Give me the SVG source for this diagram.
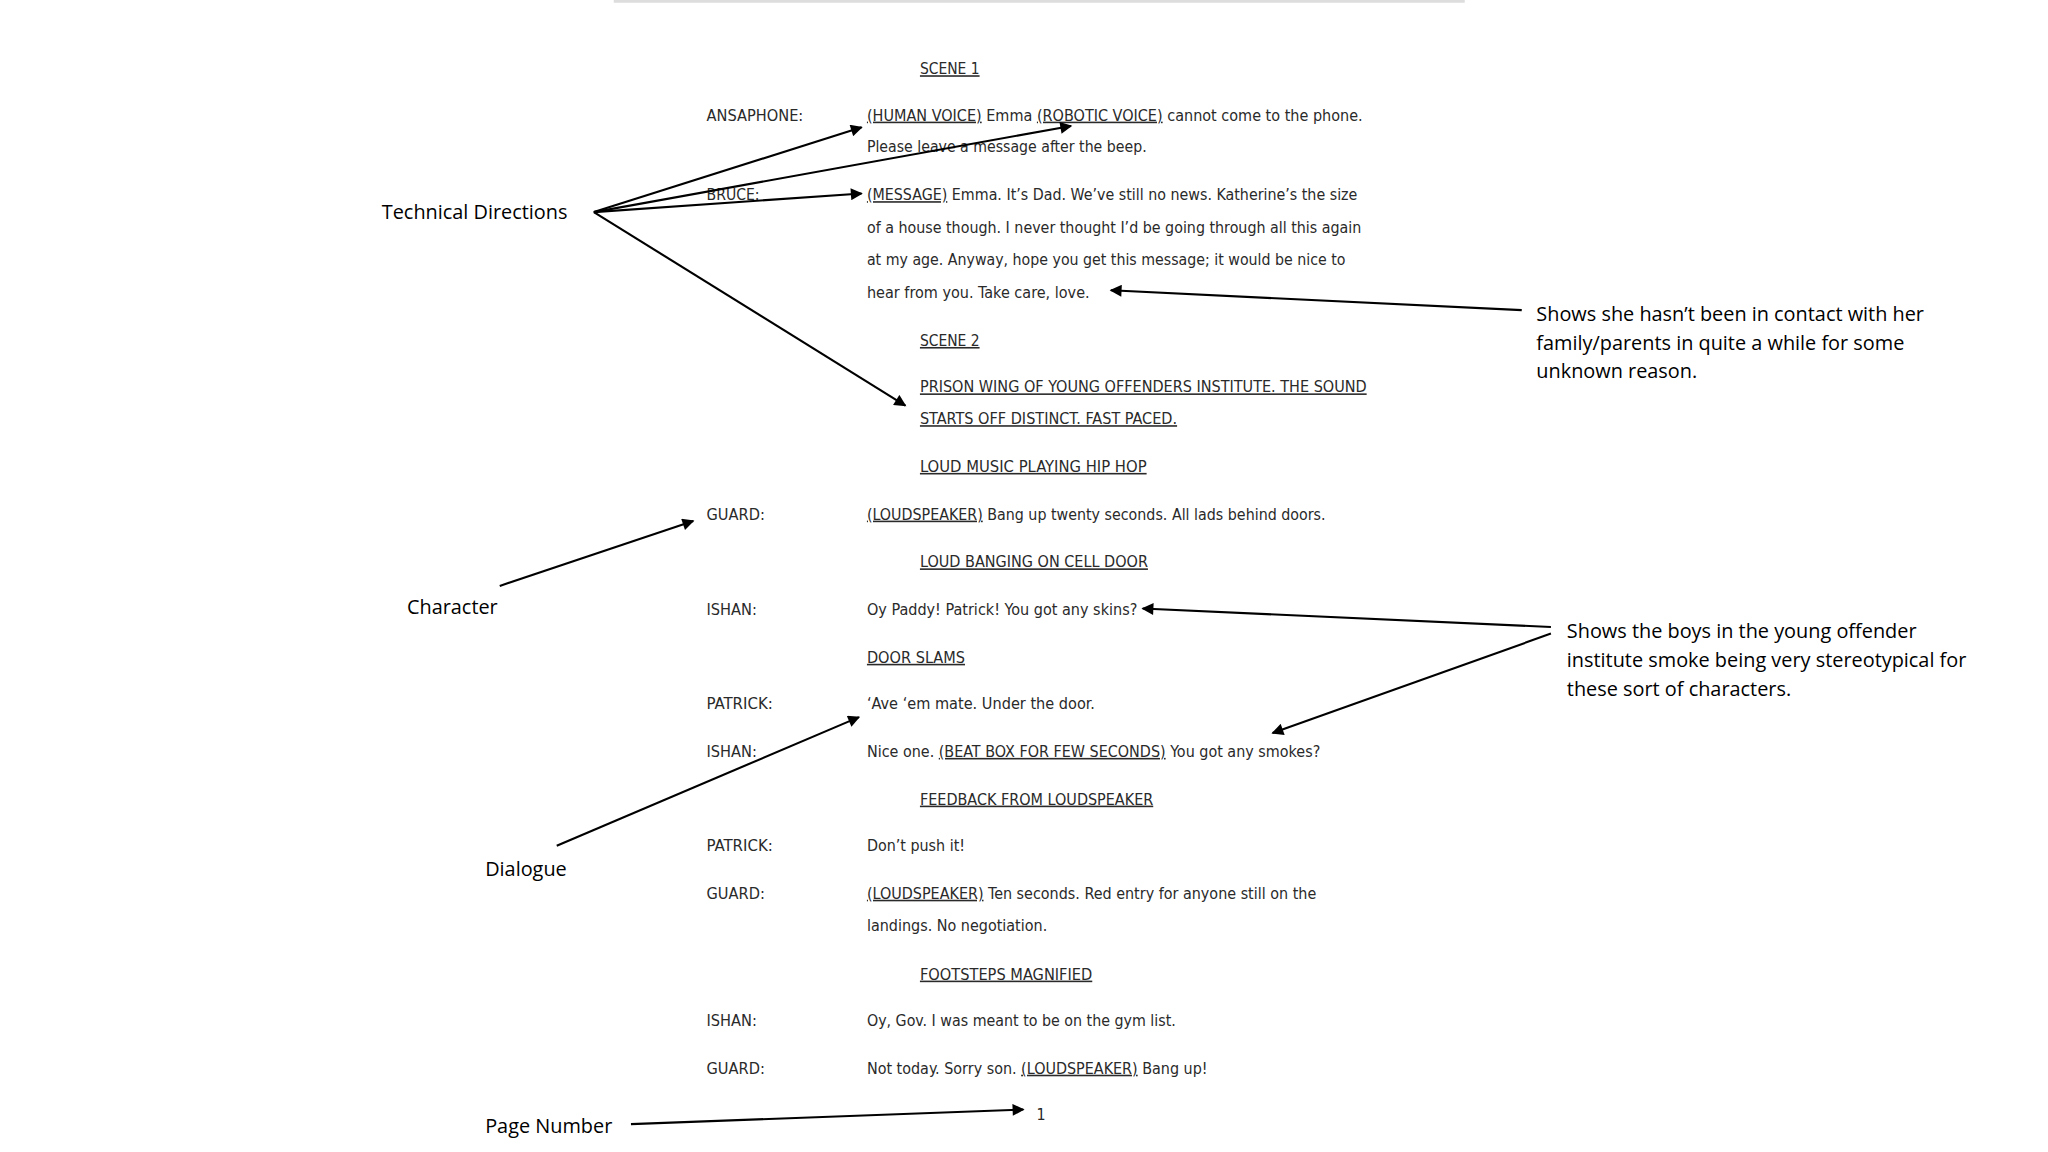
<svg xmlns="http://www.w3.org/2000/svg" width="2048" height="1152" viewBox="0 0 2048 1152">
<style>
.s{font-family:"DejaVu Sans Condensed","DejaVu Sans",sans-serif;font-size:12px;fill:#2a2a2a}
.u{text-decoration:underline}
.a{font-family:"Open Sans","Liberation Sans",sans-serif;font-size:15px;fill:#000}
.c{stroke:#000;stroke-width:1.6;fill:none;marker-end:url(#ah)}
</style>
<defs><marker id="ah" viewBox="0 0 10 10" refX="9" refY="5" markerWidth="10" markerHeight="9" markerUnits="userSpaceOnUse" orient="auto"><path d="M0,0L10,5L0,10z" fill="#000"/></marker></defs>
<rect width="2048" height="1152" fill="#fff"/>
<g transform="scale(1.32557)">
<line x1="463" y1="1" x2="1105" y2="1" stroke="#ddd" stroke-width="2"/>
<g id="script">
<text class="s u" x="694" y="56" textLength="45" lengthAdjust="spacingAndGlyphs">SCENE 1</text>
<text class="s" x="533" y="91" textLength="73" lengthAdjust="spacingAndGlyphs">ANSAPHONE:</text>
<text class="s" x="654" y="91" textLength="374" lengthAdjust="spacingAndGlyphs"><tspan class="u">(HUMAN VOICE)</tspan> Emma <tspan class="u">(ROBOTIC VOICE)</tspan> cannot come to the phone.</text>
<text class="s" x="654" y="115" textLength="211" lengthAdjust="spacingAndGlyphs">Please leave a message after the beep.</text>
<text class="s" x="533" y="151" textLength="40" lengthAdjust="spacingAndGlyphs">BRUCE:</text>
<text class="s" x="654" y="151" textLength="370" lengthAdjust="spacingAndGlyphs"><tspan class="u">(MESSAGE)</tspan> Emma. It’s Dad. We’ve still no news. Katherine’s the size</text>
<text class="s" x="654" y="176" textLength="373" lengthAdjust="spacingAndGlyphs">of a house though. I never thought I’d be going through all this again</text>
<text class="s" x="654" y="200" textLength="361" lengthAdjust="spacingAndGlyphs">at my age. Anyway, hope you get this message; it would be nice to</text>
<text class="s" x="654" y="225" textLength="168" lengthAdjust="spacingAndGlyphs">hear from you. Take care, love.</text>
<text class="s u" x="694" y="261" textLength="45" lengthAdjust="spacingAndGlyphs">SCENE 2</text>
<text class="s u" x="694" y="296" textLength="337" lengthAdjust="spacingAndGlyphs">PRISON WING OF YOUNG OFFENDERS INSTITUTE. THE SOUND</text>
<text class="s u" x="694" y="320" textLength="194" lengthAdjust="spacingAndGlyphs">STARTS OFF DISTINCT. FAST PACED.</text>
<text class="s u" x="694" y="356" textLength="171" lengthAdjust="spacingAndGlyphs">LOUD MUSIC PLAYING HIP HOP</text>
<text class="s" x="533" y="392" textLength="44" lengthAdjust="spacingAndGlyphs">GUARD:</text>
<text class="s" x="654" y="392" textLength="346" lengthAdjust="spacingAndGlyphs"><tspan class="u">(LOUDSPEAKER)</tspan> Bang up twenty seconds. All lads behind doors.</text>
<text class="s u" x="694" y="428" textLength="172" lengthAdjust="spacingAndGlyphs">LOUD BANGING ON CELL DOOR</text>
<text class="s" x="533" y="464" textLength="38" lengthAdjust="spacingAndGlyphs">ISHAN:</text>
<text class="s" x="654" y="464" textLength="204" lengthAdjust="spacingAndGlyphs">Oy Paddy! Patrick! You got any skins?</text>
<text class="s u" x="654" y="500" textLength="74" lengthAdjust="spacingAndGlyphs">DOOR SLAMS</text>
<text class="s" x="533" y="535" textLength="50" lengthAdjust="spacingAndGlyphs">PATRICK:</text>
<text class="s" x="654" y="535" textLength="172" lengthAdjust="spacingAndGlyphs">‘Ave ‘em mate. Under the door.</text>
<text class="s" x="533" y="571" textLength="38" lengthAdjust="spacingAndGlyphs">ISHAN:</text>
<text class="s" x="654" y="571" textLength="342" lengthAdjust="spacingAndGlyphs">Nice one. <tspan class="u">(BEAT BOX FOR FEW SECONDS)</tspan> You got any smokes?</text>
<text class="s u" x="694" y="607" textLength="176" lengthAdjust="spacingAndGlyphs">FEEDBACK FROM LOUDSPEAKER</text>
<text class="s" x="533" y="642" textLength="50" lengthAdjust="spacingAndGlyphs">PATRICK:</text>
<text class="s" x="654" y="642" textLength="74" lengthAdjust="spacingAndGlyphs">Don’t push it!</text>
<text class="s" x="533" y="678" textLength="44" lengthAdjust="spacingAndGlyphs">GUARD:</text>
<text class="s" x="654" y="678" textLength="339" lengthAdjust="spacingAndGlyphs"><tspan class="u">(LOUDSPEAKER)</tspan> Ten seconds. Red entry for anyone still on the</text>
<text class="s" x="654" y="702" textLength="136" lengthAdjust="spacingAndGlyphs">landings. No negotiation.</text>
<text class="s u" x="694" y="739" textLength="130" lengthAdjust="spacingAndGlyphs">FOOTSTEPS MAGNIFIED</text>
<text class="s" x="533" y="774" textLength="38" lengthAdjust="spacingAndGlyphs">ISHAN:</text>
<text class="s" x="654" y="774" textLength="233" lengthAdjust="spacingAndGlyphs">Oy, Gov. I was meant to be on the gym list.</text>
<text class="s" x="533" y="810" textLength="44" lengthAdjust="spacingAndGlyphs">GUARD:</text>
<text class="s" x="654" y="810" textLength="257" lengthAdjust="spacingAndGlyphs">Not today. Sorry son. <tspan class="u">(LOUDSPEAKER)</tspan> Bang up!</text>
<text class="s" x="782" y="845">1</text>
</g>
<g id="tech"><text class="a" x="288" y="165">Technical Directions</text></g>
<g id="character"><text class="a" x="307" y="463">Character</text></g>
<g id="dialogue"><text class="a" x="366" y="661">Dialogue</text></g>
<g id="page"><text class="a" x="366" y="855">Page Number</text></g>
<g id="note1"><text class="a" x="1159" y="242">Shows she hasn’t been in contact with her</text><text class="a" x="1159" y="264">family/parents in quite a while for some</text><text class="a" x="1159" y="285">unknown reason.</text></g>
<g id="note2"><text class="a" x="1182" y="481">Shows the boys in the young offender</text><text class="a" x="1182" y="503">institute smoke being very stereotypical for</text><text class="a" x="1182" y="525">these sort of characters.</text></g>
<g id="connectors">
<path class="c" d="M448,160L650,96"/>
<path class="c" d="M448,160L808,95"/>
<path class="c" d="M448,160L650,146"/>
<path class="c" d="M448,160L683,306"/>
<path class="c" d="M377,442L523,393"/>
<path class="c" d="M420,638L648,541"/>
<path class="c" d="M476,848L772,837"/>
<path class="c" d="M1148,234L838,219"/>
<path class="c" d="M1170,473L862,459"/>
<path class="c" d="M1170,478L960,553"/>
</g>
</g>
</svg>
